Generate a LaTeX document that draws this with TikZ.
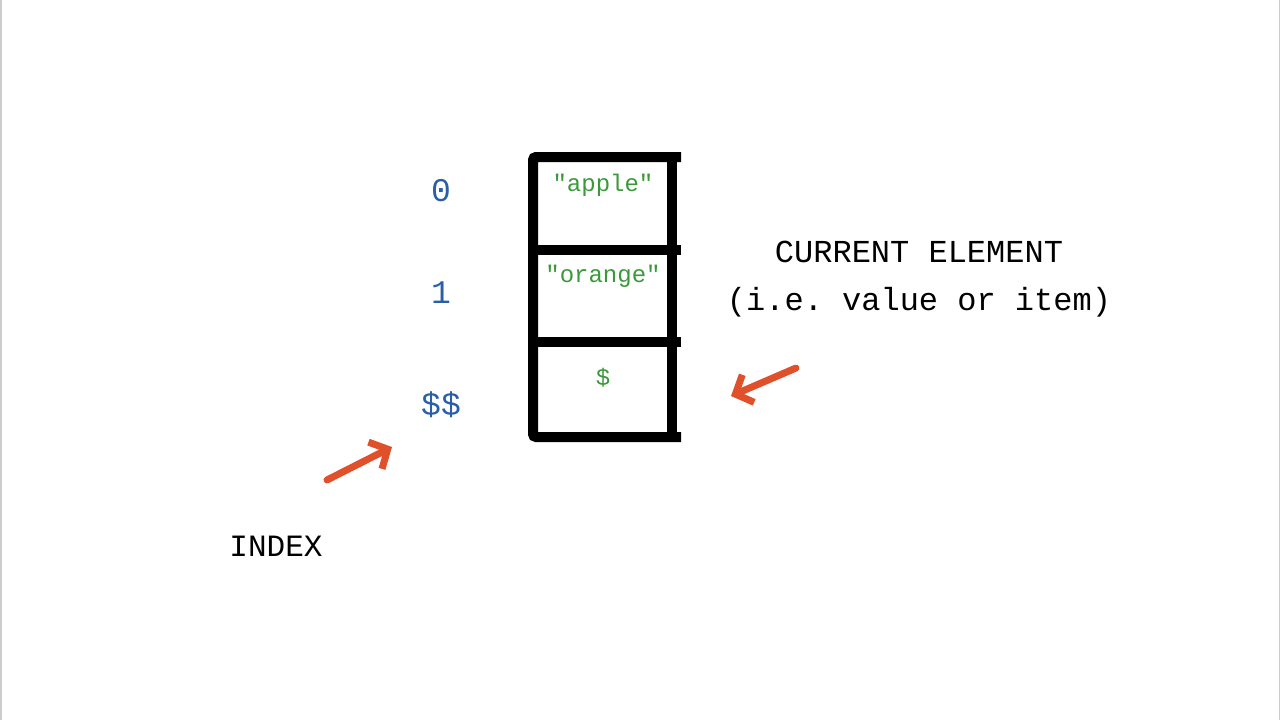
\documentclass[tikz,border=0pt]{standalone}
\usepackage{fontspec}
\setmonofont{Liberation Mono}
\usetikzlibrary{arrows.meta}
\definecolor{idx}{HTML}{2A5FA8}
\definecolor{val}{HTML}{3A9A3A}
\definecolor{arr}{HTML}{E0502A}
\tikzset{
  idxtext/.style={text=idx,font=\ttfamily\fontsize{33}{35}\selectfont},
  valtext/.style={text=val,font=\ttfamily\fontsize{24}{26}\selectfont},
  lbl/.style={text=black,font=\ttfamily\fontsize{32}{48}\selectfont,align=center},
  idxlbl/.style={text=black,font=\ttfamily\fontsize{31}{34}\selectfont},
  bar/.style={line width=10pt},
  pointer/.style={draw=arr,line width=7pt,line cap=round,-{Straight Barb[length=14pt,width=30pt,line width=7pt]}}
}
\begin{document}
\begin{tikzpicture}[x=1pt,y=-1pt]
\fill[white] (0,0) rectangle (1280,720);
\useasboundingbox (0,0) rectangle (1280,720);
\draw[gray!40,line width=1.5pt] (0.75,0) -- (0.75,720) (1279.25,0) -- (1279.25,720);
% array
\draw[bar,rounded corners=3pt] (681,157) -- (533,157) -- (533,437) -- (681,437);
\draw[bar] (672,157) -- (672,437);
\draw[bar] (533,250) -- (681,250);
\draw[bar] (533,342) -- (681,342);
\node[valtext] (v0) at (603,185) {"apple"};
\node[valtext] (v1) at (603,276) {"orange"};
\node[valtext] (v2) at (603,378) {\$};
\node[idxtext] (i0) at (441,191) {0};
\node[idxtext] (i1) at (441,293) {1};
\node[idxtext] (i2) at (441,405) {\$\$};
\node[lbl] (cur) at (919,279) {CURRENT ELEMENT\\(i.e. value or item)};
\node[idxlbl] (ind) at (276,546) {INDEX};
\coordinate (a1s) at (327,480);
\coordinate (a1e) at (392,447);
\coordinate (a2s) at (796,368);
\coordinate (a2e) at (731,396);
\draw[pointer] (a1s) -- (a1e);
\draw[pointer] (a2s) -- (a2e);
\end{tikzpicture}
\end{document}
